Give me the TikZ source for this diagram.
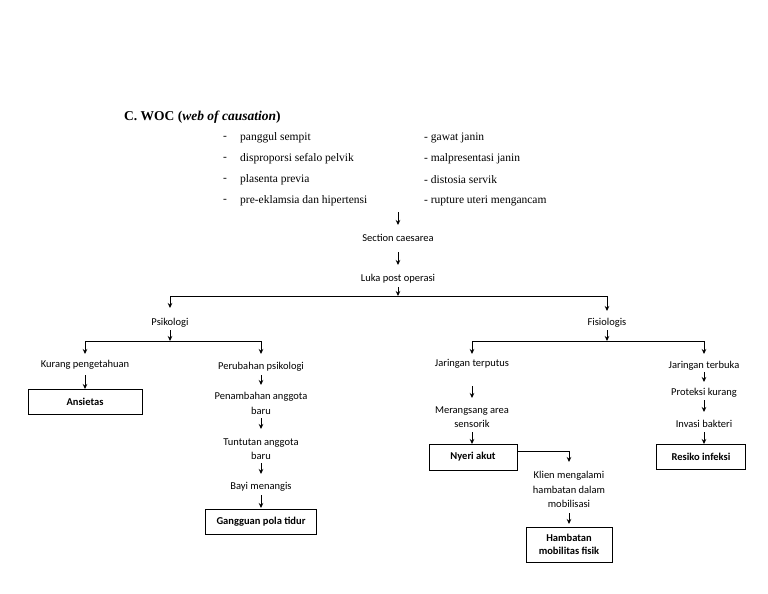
\documentclass[tikz,border=0pt]{standalone}
\usepackage{fontspec}
\setmainfont{Liberation Serif}
\newfontfamily\calfont{Carlito}
\usetikzlibrary{arrows.meta}
\begin{document}
\begin{tikzpicture}[x=1pt,y=-1pt,
  arr/.style={-{Stealth[length=5pt,width=4.5pt]},line width=0.8pt},
  ln/.style={line width=0.8pt},
  txt/.style={font=\calfont\fontsize{10.5}{14.5}\selectfont, inner sep=0pt, align=center},
  box/.style={draw, line width=1pt, font=\calfont\bfseries\fontsize{10.5}{13}\selectfont, inner sep=0pt, align=center},
  lst/.style={font=\fontsize{11.5}{13}\selectfont, inner sep=0pt, anchor=west}]
\path[use as bounding box] (0,0) rectangle (768,594);

% title
\node[anchor=west, inner sep=0pt, font=\bfseries\fontsize{13.5}{15}\selectfont] (title) at (124,117) {C. WOC (\textit{web of causation})};

% list of causes
\node[lst] (d1) at (223,138) {-};
\node[lst] (d2) at (223,159) {-};
\node[lst] (d3) at (223,180) {-};
\node[lst] (d4) at (223,201) {-};
\node[lst] (c1) at (240,138) {panggul sempit};
\node[lst] (c2) at (240,159) {disproporsi sefalo pelvik};
\node[lst] (c3) at (240,180) {plasenta previa};
\node[lst] (c4) at (240,201) {pre-eklamsia dan hipertensi};
\node[lst] (r1) at (424,138) {- gawat janin};
\node[lst] (r2) at (424,159) {- malpresentasi janin};
\node[lst] (r3) at (424,180) {- distosia servik};
\node[lst] (r4) at (424,201) {- rupture uteri mengancam};

% main chain
\coordinate (top) at (398,212);
\node[txt] (sc) at (398,238) {Section caesarea};
\node[txt] (luka) at (398,279) {Luka post operasi};
\coordinate (s1) at (398,296);
\node[txt] (psi) at (170,323) {Psikologi};
\node[txt] (fis) at (607,323) {Fisiologis};
\coordinate (s2) at (170,341);
\coordinate (s3) at (607,341);

% left branch
\node[txt] (kur) at (85,365) {Kurang pengetahuan};
\node[box, minimum width=114pt, minimum height=25pt] (ans) at (85,402) {Ansietas};
\node[txt] (per) at (261,367) {Perubahan psikologi};
\node[txt] (pen) at (261,403.5) {Penambahan anggota\\baru};
\node[txt] (tun) at (261,449) {Tuntutan anggota\\baru};
\node[txt] (bayi) at (261,487) {Bayi menangis};
\node[box, minimum width=111pt, minimum height=25pt] (gpt) at (261,521.5) {Gangguan pola tidur};

% right branch
\node[txt] (jt) at (472,364) {Jaringan terputus};
\node[txt] (mer) at (472,417) {Merangsang area\\sensorik};
\node[box, minimum width=88pt, minimum height=26pt] (nye) at (473,457) {Nyeri akut};
\node[txt] (kli) at (569,489.5) {Klien mengalami\\hambatan dalam\\mobilisasi};
\node[box, minimum width=86pt, minimum height=35pt] (hmf) at (569,544.5) {Hambatan\\mobilitas fisik};
\node[txt] (jb) at (704,366) {Jaringan terbuka};
\node[txt] (pk) at (704,393) {Proteksi kurang};
\node[txt] (ib) at (704,424) {Invasi bakteri};
\node[box, minimum width=89pt, minimum height=25pt] (ri) at (701,456.5) {Resiko infeksi};

% connectors
\draw[arr, shorten >=13pt] (top) -- (sc.center);
\draw[arr, shorten <=14pt, shorten >=14pt] (sc.center) -- (luka.center);
\draw[arr, shorten <=8pt] (luka.center) -- (s1);
\draw[arr, shorten >=15pt] (s1) -| (psi.center);
\draw[arr, shorten >=12pt] (s1) -| (fis.center);

\draw[arr, shorten <=7pt] (psi.center) -- (s2);
\draw[arr, shorten >=11pt] (s2) -| (kur.center);
\draw[arr, shorten >=13pt] (s2) -| (per.center);
\draw[arr, shorten <=10pt, shorten >=13pt] (kur.center) -- (kur.center |- ans.center);
\draw[arr, shorten <=8pt, shorten >=18.5pt] (per.center) -- (per.center |- pen.center);
\draw[arr, shorten <=14.5pt, shorten >=20pt] (pen.center) -- (pen.center |- tun.center);
\draw[arr, shorten <=14pt, shorten >=13pt] (tun.center) -- (tun.center |- bayi.center);
\draw[arr, shorten <=8pt, shorten >=13.5pt] (bayi.center) -- (bayi.center |- gpt.center);

\draw[arr, shorten <=7pt] (fis.center) -- (s3);
\draw[arr, shorten >=10pt] (s3) -| (jt.center);
\draw[arr, shorten >=12pt] (s3) -| (jb.center);
\draw[arr, shorten <=22pt, shorten >=19pt] (jt.center) -- (jt.center |- mer.center);
\draw[arr, shorten <=15pt, shorten >=13pt] (mer.center) -- (mer.center |- nye.center);
\draw[arr, shorten >=27.5pt] ([yshift=6pt]nye.east) -| (kli.center);
\draw[arr, shorten <=23.5pt, shorten >=20.5pt] (kli.center) -- (kli.center |- hmf.center);
\draw[arr, shorten <=6pt, shorten >=11pt] (jb.center) -- (jb.center |- pk.center);
\draw[arr, shorten <=7pt, shorten >=12pt] (pk.center) -- (pk.center |- ib.center);
\draw[arr, shorten <=8pt, shorten >=12.5pt] (ib.center) -- (ib.center |- ri.center);
\end{tikzpicture}
\end{document}
